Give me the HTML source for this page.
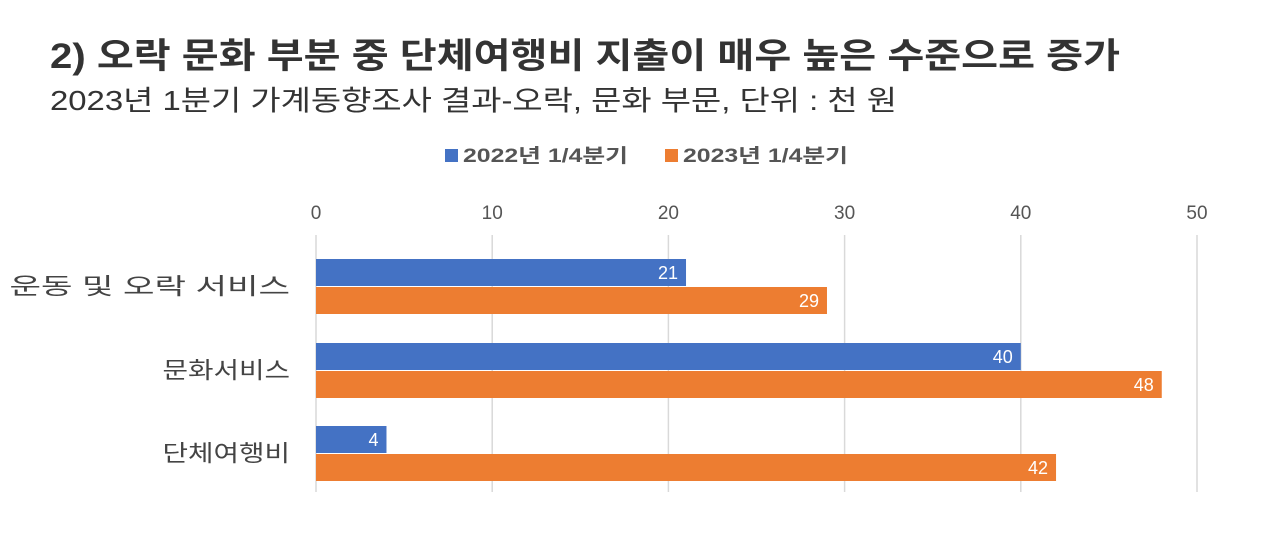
<!DOCTYPE html>
<html><head><meta charset="utf-8">
<style>
body{margin:0;width:1280px;height:540px;background:#fff;overflow:hidden;font-family:"Liberation Sans","Noto Sans CJK KR",sans-serif;}
</style></head>
<body>
<svg width="1280" height="540" xmlns="http://www.w3.org/2000/svg" font-family="Liberation Sans, Noto Sans CJK KR, sans-serif">
<text x="50" y="68" font-size="35" font-weight="bold" fill="#333" textLength="1070" lengthAdjust="spacingAndGlyphs">2) 오락 문화 부분 중 단체여행비 지출이 매우 높은 수준으로 증가</text>
<text x="50" y="110" font-size="28" fill="#333" textLength="847" lengthAdjust="spacingAndGlyphs">2023년 1분기 가계동향조사 결과-오락, 문화 부문, 단위 : 천 원</text>
<g>
<rect x="445" y="149" width="13" height="13" fill="#4472c4"/>
<text x="463" y="162" font-size="19" font-weight="bold" fill="#555" textLength="165" lengthAdjust="spacingAndGlyphs">2022년 1/4분기</text>
<rect x="665" y="149" width="13" height="13" fill="#ed7d31"/>
<text x="683" y="162" font-size="19" font-weight="bold" fill="#555" textLength="165" lengthAdjust="spacingAndGlyphs">2023년 1/4분기</text>
</g>
<g id="grid"></g><g id="bars"></g>
</svg>
<script>
const categories=["운동 및 오락 서비스","문화서비스","단체여행비"];
const s2022=[21,40,4];
const s2023=[29,48,42];
const ticks=[0,10,20,30,40,50];
const ns="http://www.w3.org/2000/svg";
const x0=316,x1=1197,max=50;
const xs=v=>x0+(x1-x0)*v/max;
const g=document.getElementById('grid'),b=document.getElementById('bars');
function el(t,a,p){const e=document.createElementNS(ns,t);for(const k in a)e.setAttribute(k,a[k]);p.appendChild(e);return e;}
ticks.forEach(t=>{
 const l=el('line',{x1:xs(t),x2:xs(t),y1:235,y2:492,stroke:'#d9d9d9','stroke-width':1.5},g);
 
 
 const tx=el('text',{x:xs(t),y:219,'font-size':19,'text-anchor':'middle',fill:'#555'},g);
 tx.textContent=t;
 
 
});
const groupTop=[259,343,426],bh=27;
categories.forEach((c,i)=>{
 const w=c.length*25.5;
 const ct=el('text',{x:290-w,y:groupTop[i]+bh+8,'font-size':23,fill:'#444',textLength:w,lengthAdjust:'spacingAndGlyphs'},b);
 ct.textContent=c;
 
 
 [[s2022,'#4472c4',0],[s2023,'#ed7d31',1]].forEach(([s,col,k])=>{
  const y=groupTop[i]+k*(bh+1),v=s[i];
  const r=el('rect',{x:xs(0),y:y,width:xs(v)-xs(0),height:bh,fill:col},b);
  
  
  const t=el('text',{x:xs(v)-8,y:y+20,'font-size':18,'text-anchor':'end',fill:'#fff'},b);
  t.textContent=v;
  
  
 });
});
</script>
</body></html>
